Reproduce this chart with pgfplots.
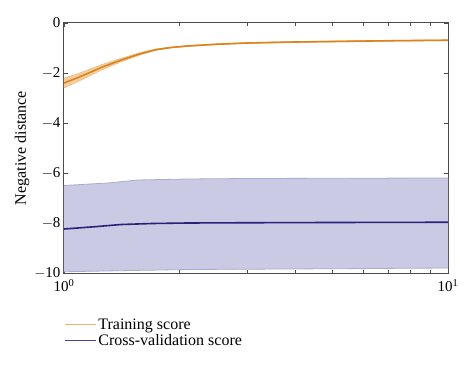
\documentclass[border=0pt]{standalone}
\usepackage{fontspec}
\setmainfont{Liberation Serif}
\usepackage{pgfplots}
\pgfplotsset{compat=1.18}
\usepgfplotslibrary{fillbetween}
\definecolor{trainC}{RGB}{220,132,28}
\definecolor{trainF}{RGB}{246,205,160}
\definecolor{trainL}{RGB}{228,180,118}
\definecolor{cvC}{RGB}{40,34,120}
\definecolor{cvF}{RGB}{202,202,228}
\definecolor{cvE}{RGB}{170,170,210}
\definecolor{cvL}{RGB}{75,68,150}
\begin{document}
\begin{tikzpicture}[x=1pt,y=1pt]
\path (-64,-94) rectangle (410,273);
\begin{axis}[at={(0,0)}, anchor=south west, scale only axis,
  width=384pt, height=250pt,
  xmode=log, xmin=1, xmax=10, ymin=-10, ymax=0,
  ytick={-10,-8,-6,-4,-2,0},
  yticklabels={{$-$10},{$-$8},{$-$6},{$-$4},{$-$2},0},
  xtick={1,10}, xticklabels={10\textsuperscript{0},10\textsuperscript{1}},
  minor xtick={2,3,4,5,6,7,8,9},
  tick align=inside, major tick length=4pt, minor tick length=3pt,
  axis line style={draw=black!70, line width=1pt},
  every tick/.style={black!70, line width=0.6pt},
  yticklabel style={font=\fontsize{15}{17}\selectfont},
  xticklabel style={font=\fontsize{15}{17}\selectfont, yshift=-3pt},
  ylabel={\fontsize{16}{18}\selectfont Negative distance},
  ylabel style={yshift=-2pt},
  legend style={at={(0,-0.165)}, anchor=north west, draw=none, fill=none,
    font=\fontsize{16}{18}\selectfont, inner xsep=0pt, row sep=0pt},
  legend cell align=left,
  legend image code/.code={\draw[#1] (-1pt,0pt) -- (26pt,0pt); \path (0pt,0pt) -- (30pt,0pt);},
]
% training band
\addplot[name path=tu, draw=trainL, line width=0.4pt, forget plot] coordinates {
(1,-2.2)(1.08,-2.04)(1.16,-1.86)(1.25,-1.67)(1.41,-1.41)(1.58,-1.18)(1.73,-1.04)(1.9,-0.96)(2.1,-0.9)(2.5,-0.83)(3,-0.78)(4,-0.74)(5,-0.72)(7,-0.69)(10,-0.67)};
\addplot[name path=tl, draw=trainL, line width=0.4pt, forget plot] coordinates {
(1,-2.6)(1.08,-2.36)(1.16,-2.14)(1.25,-1.89)(1.41,-1.55)(1.58,-1.28)(1.73,-1.1)(1.9,-1.0)(2.1,-0.94)(2.5,-0.87)(3,-0.82)(4,-0.78)(5,-0.76)(7,-0.73)(10,-0.71)};
\addplot[trainF, forget plot] fill between[of=tu and tl];
% cv band
\addplot[name path=cu, draw=cvE, line width=0.8pt, forget plot] coordinates {
(1,-6.5)(1.3,-6.4)(1.56,-6.28)(2.1,-6.24)(3,-6.22)(10,-6.2)};
\addplot[name path=cl, draw=cvE, line width=0.8pt, forget plot] coordinates {
(1,-9.95)(1.5,-9.9)(2.1,-9.86)(5,-9.83)(10,-9.8)};
\addplot[cvF, forget plot] fill between[of=cu and cl];
% means
\addplot[trainC, line width=1.6pt, forget plot] coordinates {
(1,-2.4)(1.08,-2.2)(1.16,-2.0)(1.25,-1.78)(1.41,-1.48)(1.58,-1.23)(1.73,-1.07)(1.9,-0.98)(2.1,-0.92)(2.5,-0.85)(3,-0.8)(4,-0.76)(5,-0.74)(7,-0.71)(10,-0.69)};
\addplot[cvC, line width=1.6pt, forget plot] coordinates {
(1,-8.24)(1.2,-8.15)(1.41,-8.06)(1.7,-8.02)(2.1,-8.0)(3,-7.99)(5,-7.98)(10,-7.97)};
\addlegendimage{trainL, line width=1.2pt}
\addlegendentry{Training score}
\addlegendimage{cvL, line width=1.2pt}
\addlegendentry{Cross-validation score}
\end{axis}
\end{tikzpicture}
\end{document}
